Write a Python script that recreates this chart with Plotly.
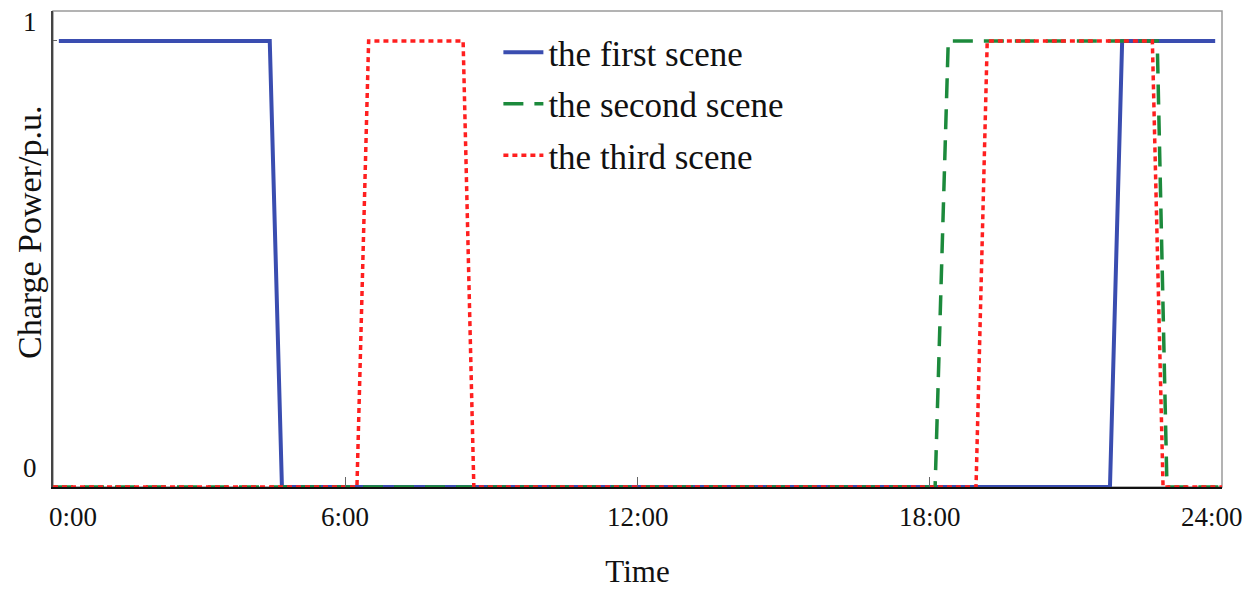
import plotly.graph_objects as go

# hours and charge power (p.u.) at their corners
T_FIRST = [0.12, 4.45, 4.70, 21.70, 21.95, 23.86]
P_FIRST = [1, 1, 0, 0, 1, 1]

T_SECOND = [0, 18.11, 18.38, 22.67, 22.87, 24]
P_SECOND = [0, 0, 1, 1, 0, 0]

T_THIRD = [0, 6.24, 6.48, 8.42, 8.64, 18.95, 19.18, 22.57, 22.79, 24]
P_THIRD = [0, 0, 1, 1, 0, 0, 1, 1, 0, 0]

X_TICKS = [0, 6, 12, 18, 24]
X_LABELS = ["0:00", "6:00", "12:00", "18:00", "24:00"]
Y_TICKS = [0, 1]
Y_LABELS = ["0", "1"]

FONT = "Liberation Serif, Times New Roman, serif"

fig = go.Figure()

fig.add_trace(go.Scatter(
    x=T_FIRST, y=P_FIRST, mode="lines", name="the first scene",
    line=dict(color="#3a4db0", width=4), legendgroup="a",
))
fig.add_trace(go.Scatter(
    x=T_SECOND, y=P_SECOND, mode="lines", name="the second scene",
    line=dict(color="#1c8a3c", width=3.5, dash="20px,11px"), legendgroup="b",
))
fig.add_trace(go.Scatter(
    x=T_THIRD, y=P_THIRD, mode="lines", name="the third scene",
    line=dict(color="#ff1f1f", width=3.5, dash="5px,4px"), legendgroup="c",
))

# x tick labels as annotations, end labels pulled inward like the original
for val, txt in zip(X_TICKS, X_LABELS):
    shift = 0
    if val == X_TICKS[0]:
        shift = 20
    elif val == X_TICKS[-1]:
        shift = -10
    fig.add_annotation(
        x=val, y=0, xref="x", yref="paper", text=txt, showarrow=False,
        xshift=shift, yshift=-30, yanchor="middle",
        font=dict(size=27, color="#111", family=FONT),
    )

# y tick labels sit above their ticks in the original
for val, txt in zip(Y_TICKS, Y_LABELS):
    fig.add_annotation(
        x=0, y=val, xref="paper", yref="y", text=txt, showarrow=False,
        xanchor="center", yanchor="middle", xshift=-23, yshift=19,
        font=dict(size=27, color="#111", family=FONT),
    )

# y title sits a little above the middle in the original
fig.add_annotation(
    x=0, y=0.5, xref="paper", yref="paper", text="Charge Power/p.u.",
    textangle=-90, showarrow=False, xanchor="center", yanchor="middle",
    xshift=-24, yshift=16, font=dict(size=34, color="#111", family=FONT),
)

# light frame on top and right
fig.add_shape(
    type="rect", xref="paper", yref="paper", x0=0, x1=1, y0=0, y1=1,
    line=dict(color="#9a9a9a", width=1.5), layer="below",
)

# the page body adds an 8px offset, so the figure is 8px smaller than the window
fig.update_layout(
    width=1242, height=581,
    margin=dict(l=45, r=28, t=3, b=102, autoexpand=False),
    plot_bgcolor="white", paper_bgcolor="white",
    font=dict(family=FONT, color="#111"),
    showlegend=True,
    legend=dict(
        x=0.381, y=0.975, xanchor="left", yanchor="top",
        font=dict(size=35, family=FONT, color="#111"),
        bgcolor="rgba(0,0,0,0)", tracegroupgap=3, itemwidth=40,
    ),
    xaxis=dict(
        range=[0, 24], tickvals=X_TICKS, showticklabels=False,
        ticks="inside", ticklen=10, tickcolor="#666", tickwidth=1,
        showgrid=False, zeroline=False, automargin=False,
        showline=True, linecolor="#111", linewidth=1.5,
        title=dict(text="Time", font=dict(size=31, family=FONT, color="#111"), standoff=73),
    ),
    yaxis=dict(
        range=[0, 1.067], tickvals=Y_TICKS, showticklabels=False,
        ticks="inside", ticklen=4, tickcolor="#666",
        showgrid=False, zeroline=False, automargin=False,
        showline=True, linecolor="#444", linewidth=1.5,
    ),
)

fig.write_html("out.html")
